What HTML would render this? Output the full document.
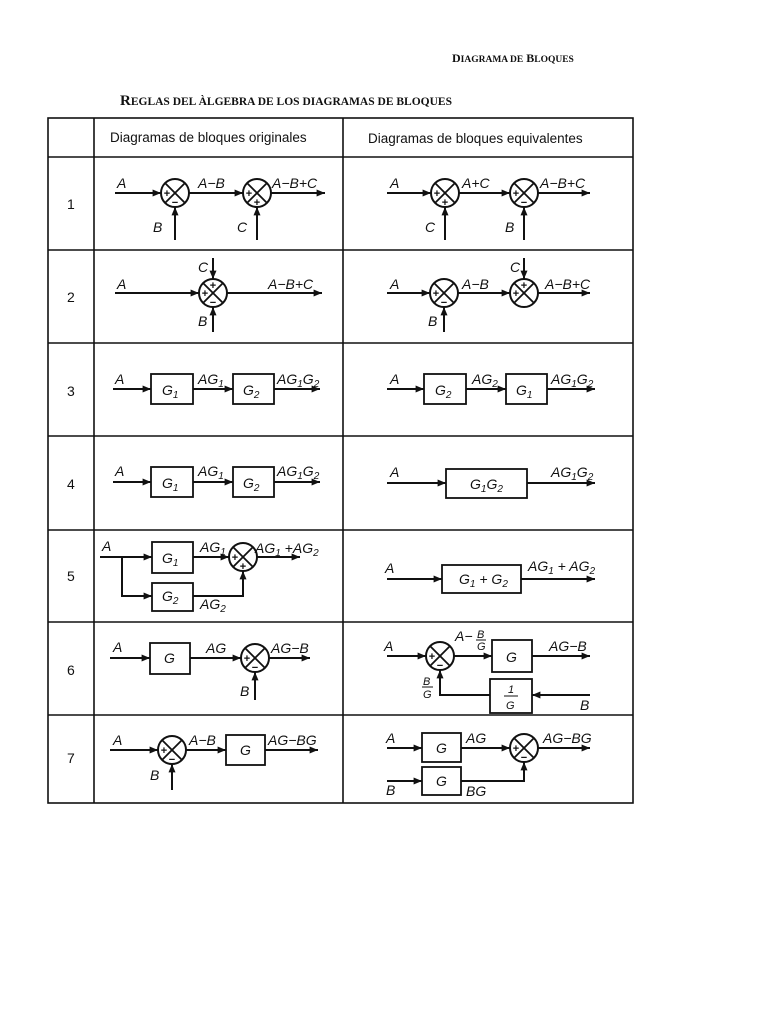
<!DOCTYPE html>
<html><head><meta charset="utf-8"><style>
html,body{margin:0;padding:0;background:#fff}
svg{display:block}
.l{font-family:"Liberation Sans",sans-serif;font-style:italic;font-size:14px;fill:#111}
.s{font-family:"Liberation Sans",sans-serif;font-size:11px;font-weight:bold;fill:#111}
.h{font-family:"Liberation Sans",sans-serif;font-size:13.5px;fill:#111}
.n{font-family:"Liberation Sans",sans-serif;font-size:14px;fill:#111}
.t{font-family:"Liberation Serif",serif;font-weight:bold;fill:#111}
</style></head><body>
<svg width="768" height="1024" viewBox="0 0 768 1024" xmlns="http://www.w3.org/2000/svg">
<defs>
<marker id="a" viewBox="0 0 12 10" refX="12" refY="5" markerWidth="11" markerHeight="7" markerUnits="userSpaceOnUse" orient="auto"><path d="M0,0 L12,5 L0,10 z" fill="#111"/></marker>
<g id="j"><circle r="14" fill="#fff" stroke="#111" stroke-width="2"/><line x1="-10" y1="-10" x2="10" y2="10" stroke="#111" stroke-width="1.8"/><line x1="-10" y1="10" x2="10" y2="-10" stroke="#111" stroke-width="1.8"/></g>
</defs>
<rect width="768" height="1024" fill="#fff"/>
<text x="452" y="62" class="t" font-size="12">D<tspan font-size="9.5">IAGRAMA DE</tspan> B<tspan font-size="9.5">LOQUES</tspan></text>
<text x="120" y="105" class="t" font-size="15">R<tspan font-size="11.5">EGLAS DEL ÀLGEBRA DE LOS DIAGRAMAS DE BLOQUES</tspan></text>

<g stroke="#111" stroke-width="1.6" fill="none">
<rect x="48" y="118" width="585" height="685"/>
<line x1="94" y1="118" x2="94" y2="803"/>
<line x1="343" y1="118" x2="343" y2="803"/>
<line x1="48" y1="157" x2="633" y2="157"/>
<line x1="48" y1="250" x2="633" y2="250"/>
<line x1="48" y1="343" x2="633" y2="343"/>
<line x1="48" y1="436" x2="633" y2="436"/>
<line x1="48" y1="530" x2="633" y2="530"/>
<line x1="48" y1="622" x2="633" y2="622"/>
<line x1="48" y1="715" x2="633" y2="715"/>
</g>
<text x="110" y="142" class="h">Diagramas de bloques originales</text>
<text x="368" y="143" class="h">Diagramas de bloques equivalentes</text>
<text x="67" y="209" class="n">1</text>
<text x="67" y="302" class="n">2</text>
<text x="67" y="396" class="n">3</text>
<text x="67" y="489" class="n">4</text>
<text x="67" y="581" class="n">5</text>
<text x="67" y="675" class="n">6</text>
<text x="67" y="763" class="n">7</text>

<g stroke="#111" stroke-width="2" fill="none" marker-end="url(#a)">
<line x1="115" y1="193" x2="161" y2="193"/>
<line x1="189" y1="193" x2="243" y2="193"/>
<line x1="271" y1="193" x2="325" y2="193"/>
<line x1="175" y1="240" x2="175" y2="207"/>
<line x1="257" y1="240" x2="257" y2="207"/>
<line x1="387" y1="193" x2="431" y2="193"/>
<line x1="459" y1="193" x2="510" y2="193"/>
<line x1="538" y1="193" x2="590" y2="193"/>
<line x1="445" y1="240" x2="445" y2="207"/>
<line x1="524" y1="240" x2="524" y2="207"/>
<line x1="115" y1="293" x2="199" y2="293"/>
<line x1="227" y1="293" x2="322" y2="293"/>
<line x1="213" y1="258" x2="213" y2="279"/>
<line x1="213" y1="332" x2="213" y2="307"/>
<line x1="387" y1="293" x2="430" y2="293"/>
<line x1="458" y1="293" x2="510" y2="293"/>
<line x1="538" y1="293" x2="590" y2="293"/>
<line x1="524" y1="258" x2="524" y2="279"/>
<line x1="444" y1="332" x2="444" y2="307"/>
<line x1="113" y1="389" x2="151" y2="389"/>
<line x1="193" y1="389" x2="233" y2="389"/>
<line x1="274" y1="389" x2="320" y2="389"/>
<line x1="387" y1="389" x2="424" y2="389"/>
<line x1="466" y1="389" x2="506" y2="389"/>
<line x1="547" y1="389" x2="595" y2="389"/>
<line x1="113" y1="482" x2="151" y2="482"/>
<line x1="193" y1="482" x2="233" y2="482"/>
<line x1="274" y1="482" x2="320" y2="482"/>
<line x1="387" y1="483" x2="446" y2="483"/>
<line x1="527" y1="483" x2="595" y2="483"/>
<line x1="100" y1="557" x2="152" y2="557"/>
<polyline points="122,557 122,596 152,596"/>
<line x1="193" y1="557" x2="229" y2="557"/>
<line x1="257" y1="557" x2="300" y2="557"/>
<polyline points="193,596 243,596 243,571"/>
<line x1="387" y1="579" x2="442" y2="579"/>
<line x1="521" y1="579" x2="595" y2="579"/>
<line x1="110" y1="658" x2="150" y2="658"/>
<line x1="190" y1="658" x2="241" y2="658"/>
<line x1="269" y1="658" x2="310" y2="658"/>
<line x1="255" y1="700" x2="255" y2="672"/>
<line x1="387" y1="656" x2="426" y2="656"/>
<line x1="454" y1="656" x2="492" y2="656"/>
<line x1="532" y1="656" x2="590" y2="656"/>
<line x1="590" y1="695" x2="532" y2="695"/>
<polyline points="490,695 440,695 440,670"/>
<line x1="110" y1="750" x2="158" y2="750"/>
<line x1="186" y1="750" x2="226" y2="750"/>
<line x1="265" y1="750" x2="318" y2="750"/>
<line x1="172" y1="790" x2="172" y2="764"/>
<line x1="387" y1="748" x2="422" y2="748"/>
<line x1="461" y1="748" x2="510" y2="748"/>
<line x1="538" y1="748" x2="590" y2="748"/>
<line x1="387" y1="781" x2="422" y2="781"/>
<polyline points="461,781 524,781 524,762"/>
</g>

<g stroke="#111" stroke-width="1.8" fill="#fff">
<rect x="151" y="374" width="42" height="30"/><rect x="233" y="374" width="41" height="30"/>
<rect x="424" y="374" width="42" height="30"/><rect x="506" y="374" width="41" height="30"/>
<rect x="151" y="467" width="42" height="30"/><rect x="233" y="467" width="41" height="30"/>
<rect x="446" y="469" width="81" height="29"/>
<rect x="152" y="542" width="41" height="31"/><rect x="152" y="583" width="41" height="28"/>
<rect x="442" y="565" width="79" height="28"/>
<rect x="150" y="643" width="40" height="31"/>
<rect x="492" y="640" width="40" height="32"/><rect x="490" y="679" width="42" height="34"/>
<rect x="226" y="735" width="39" height="30"/>
<rect x="422" y="733" width="39" height="29"/><rect x="422" y="767" width="39" height="28"/>
</g>

<use href="#j" x="175" y="193"/><use href="#j" x="257" y="193"/>
<use href="#j" x="445" y="193"/><use href="#j" x="524" y="193"/>
<use href="#j" x="213" y="293"/><use href="#j" x="444" y="293"/><use href="#j" x="524" y="293"/>
<use href="#j" x="243" y="557"/>
<use href="#j" x="255" y="658"/><use href="#j" x="440" y="656"/>
<use href="#j" x="172" y="750"/><use href="#j" x="524" y="748"/>

<g class="s" text-anchor="middle">
<text x="167" y="197">+</text><text x="175" y="206">−</text>
<text x="249" y="197">+</text><text x="257" y="206">+</text>
<text x="437" y="197">+</text><text x="445" y="206">+</text>
<text x="516" y="197">+</text><text x="524" y="206">−</text>
<text x="213" y="289">+</text><text x="205" y="297">+</text><text x="213" y="306">−</text>
<text x="436" y="297">+</text><text x="444" y="306">−</text>
<text x="524" y="289">+</text><text x="516" y="297">+</text>
<text x="235" y="561">+</text><text x="243" y="570">+</text>
<text x="247" y="662">+</text><text x="255" y="671">−</text>
<text x="432" y="660">+</text><text x="440" y="669">−</text>
<text x="164" y="754">+</text><text x="172" y="763">−</text>
<text x="516" y="752">+</text><text x="524" y="761">−</text>
</g>

<g class="l">
<text x="117" y="188">A</text><text x="198" y="188">A−B</text><text x="272" y="188">A−B+C</text>
<text x="153" y="232">B</text><text x="237" y="232">C</text>
<text x="390" y="188">A</text><text x="462" y="188">A+C</text><text x="540" y="188">A−B+C</text>
<text x="425" y="232">C</text><text x="505" y="232">B</text>
<text x="198" y="272">C</text><text x="117" y="289">A</text><text x="268" y="289">A−B+C</text><text x="198" y="326">B</text>
<text x="390" y="289">A</text><text x="462" y="289">A−B</text><text x="510" y="272">C</text><text x="545" y="289">A−B+C</text><text x="428" y="326">B</text>
<text x="115" y="384">A</text><text x="198" y="384">AG<tspan font-size="10" dy="3">1</tspan></text><text x="277" y="384">AG<tspan font-size="10" dy="3">1</tspan><tspan dy="-3">G</tspan><tspan font-size="10" dy="3">2</tspan></text>
<text x="162" y="395">G<tspan font-size="10" dy="3">1</tspan></text><text x="243" y="395">G<tspan font-size="10" dy="3">2</tspan></text>
<text x="390" y="384">A</text><text x="472" y="384">AG<tspan font-size="10" dy="3">2</tspan></text><text x="551" y="384">AG<tspan font-size="10" dy="3">1</tspan><tspan dy="-3">G</tspan><tspan font-size="10" dy="3">2</tspan></text>
<text x="435" y="395">G<tspan font-size="10" dy="3">2</tspan></text><text x="516" y="395">G<tspan font-size="10" dy="3">1</tspan></text>
<text x="115" y="476">A</text><text x="198" y="476">AG<tspan font-size="10" dy="3">1</tspan></text><text x="277" y="476">AG<tspan font-size="10" dy="3">1</tspan><tspan dy="-3">G</tspan><tspan font-size="10" dy="3">2</tspan></text>
<text x="162" y="488">G<tspan font-size="10" dy="3">1</tspan></text><text x="243" y="488">G<tspan font-size="10" dy="3">2</tspan></text>
<text x="390" y="477">A</text><text x="551" y="477">AG<tspan font-size="10" dy="3">1</tspan><tspan dy="-3">G</tspan><tspan font-size="10" dy="3">2</tspan></text>
<text x="470" y="489">G<tspan font-size="10" dy="3">1</tspan><tspan dy="-3">G</tspan><tspan font-size="10" dy="3">2</tspan></text>
<text x="102" y="551">A</text><text x="200" y="552">AG<tspan font-size="10" dy="3">1</tspan></text><text x="255" y="553">AG<tspan font-size="10" dy="3">1</tspan><tspan dy="-3"> +AG</tspan><tspan font-size="10" dy="3">2</tspan></text>
<text x="162" y="563">G<tspan font-size="10" dy="3">1</tspan></text><text x="162" y="601">G<tspan font-size="10" dy="3">2</tspan></text>
<text x="200" y="609">AG<tspan font-size="10" dy="3">2</tspan></text>
<text x="385" y="573">A</text><text x="459" y="584">G<tspan font-size="10" dy="3">1</tspan><tspan dy="-3"> + G</tspan><tspan font-size="10" dy="3">2</tspan></text>
<text x="528" y="571">AG<tspan font-size="10" dy="3">1</tspan><tspan dy="-3"> + AG</tspan><tspan font-size="10" dy="3">2</tspan></text>
<text x="113" y="652">A</text><text x="164" y="663">G</text><text x="206" y="653">AG</text><text x="271" y="653">AG−B</text><text x="240" y="696">B</text>
<text x="384" y="651">A</text><text x="455" y="641">A−</text><text x="477" y="638" font-size="11">B</text><line x1="476" y1="640" x2="486" y2="640" stroke="#111" stroke-width="1"/><text x="477" y="650" font-size="11">G</text>
<text x="506" y="662">G</text><text x="549" y="651">AG−B</text>
<text x="508" y="693" font-size="11">1</text><line x1="504" y1="696" x2="518" y2="696" stroke="#111" stroke-width="1"/><text x="506" y="709" font-size="11">G</text>
<text x="580" y="710">B</text>
<text x="423" y="685" font-size="11">B</text><line x1="422" y1="687" x2="433" y2="687" stroke="#111" stroke-width="1"/><text x="423" y="698" font-size="11">G</text>
<text x="113" y="745">A</text><text x="189" y="745">A−B</text><text x="240" y="755">G</text><text x="268" y="745">AG−BG</text><text x="150" y="780">B</text>
<text x="386" y="743">A</text><text x="436" y="753">G</text><text x="466" y="743">AG</text><text x="543" y="743">AG−BG</text>
<text x="386" y="795">B</text><text x="436" y="786">G</text><text x="466" y="796">BG</text>
</g>
</svg>
</body></html>
